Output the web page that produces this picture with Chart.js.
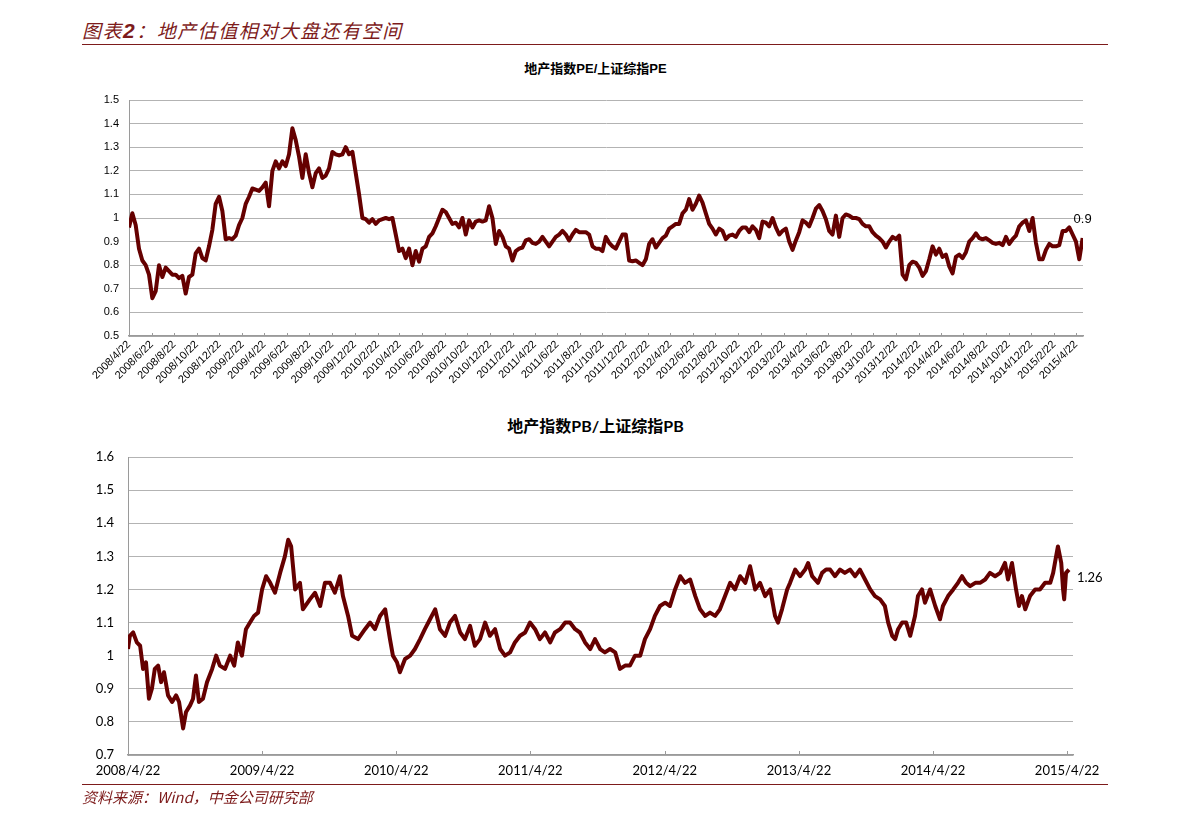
<!DOCTYPE html>
<html><head><meta charset="utf-8">
<script src="https://cdn.jsdelivr.net/npm/chart.js@4/dist/chart.umd.min.js"></script>
<style>
html,body{margin:0;padding:0;background:#fff}
body{width:1191px;height:824px;position:relative;overflow:hidden;font-family:"Noto Sans CJK SC",sans-serif}
.abs{position:absolute}
#hdr{left:82px;top:16px;font-size:19px;font-style:italic;color:#7d1b1b;letter-spacing:1.5px;white-space:nowrap}
#hdr b{font-family:"Liberation Sans",sans-serif;font-size:21px}
#rule1{left:82px;top:44px;width:1026px;height:0;border-top:1px solid #7d1b1b}
#rule2{left:82px;top:784px;width:1026px;height:0;border-top:1px solid #7d1b1b}
#src{left:82px;top:786px;font-size:15px;font-style:italic;color:#7d1b1b;white-space:nowrap}
#t1{left:0;width:1191px;top:58px;text-align:center;font-family:"Liberation Sans","Noto Sans CJK SC",sans-serif;font-weight:bold;font-size:13px;color:#000}
#t2{left:0;width:1191px;top:413px;text-align:center;font-family:"Lato","Noto Sans CJK SC",sans-serif;font-weight:bold;font-size:16px;color:#000}
canvas{position:absolute;left:0}
#c1{top:0}
#c2{top:405px}
</style>
</head><body>
<div id="hdr" class="abs">图表<b>2</b>：地产估值相对大盘还有空间</div>
<div id="rule1" class="abs"></div>
<div id="t1" class="abs">地产指数PE/上证综指PE</div>
<div id="t2" class="abs">地产指数PB/上证综指PB</div>
<canvas id="c1" width="1191" height="405"></canvas>
<canvas id="c2" width="1191" height="419"></canvas>
<div id="rule2" class="abs"></div>
<div id="src" class="abs">资料来源：Wind，中金公司研究部</div>
<script>
// ---------- DATA ----------
const START_DATE = "2008/4/22";
// PE ratio (real-estate index PE / Shanghai composite PE), one reading every 9 days from START_DATE
const PE_STEP_DAYS = 9;
const peValues = [
0.96,1.02,0.97,0.87,0.82,0.80,0.76,0.66,0.69,0.80,
0.75,0.79,0.775,0.76,0.76,0.745,0.755,0.68,0.75,0.76,
0.85,0.87,0.83,0.82,0.88,0.95,1.06,1.09,1.03,0.91,
0.915,0.91,0.925,0.97,1.0,1.06,1.09,1.125,1.12,1.115,
1.13,1.15,1.05,1.2,1.24,1.21,1.24,1.22,1.27,1.38,
1.33,1.26,1.17,1.27,1.19,1.13,1.19,1.21,1.17,1.18,
1.21,1.28,1.27,1.265,1.27,1.30,1.27,1.28,1.19,1.10,
1.0,0.995,0.98,0.995,0.975,0.99,0.995,1.0,0.995,1.0,
0.93,0.86,0.87,0.83,0.87,0.80,0.86,0.815,0.87,0.88,
0.92,0.935,0.965,1.0,1.035,1.025,1.0,0.975,0.98,0.96,
1.0,0.93,0.99,0.96,0.985,0.99,0.985,0.99,1.05,1.0,
0.89,0.945,0.92,0.88,0.87,0.82,0.86,0.87,0.875,0.905,
0.91,0.895,0.89,0.9,0.92,0.90,0.88,0.90,0.92,0.93,
0.945,0.93,0.905,0.93,0.95,0.94,0.94,0.94,0.93,0.88,
0.87,0.87,0.86,0.92,0.895,0.88,0.87,0.90,0.93,0.93,
0.82,0.817,0.82,0.81,0.80,0.825,0.89,0.91,0.875,0.895,
0.915,0.925,0.955,0.965,0.975,0.975,1.02,1.035,1.08,1.035,
1.06,1.095,1.065,1.02,0.975,0.955,0.93,0.955,0.945,0.91,
0.925,0.93,0.92,0.945,0.96,0.96,0.94,0.965,0.95,0.915,
0.985,0.98,0.965,1.0,0.96,0.93,0.945,0.955,0.90,0.865,
0.905,0.94,0.99,0.98,0.965,1.0,1.04,1.055,1.03,0.995,
0.945,0.93,1.01,0.92,1.0,1.015,1.01,1.0,1.0,0.995,
0.975,0.965,0.965,0.94,0.925,0.915,0.90,0.875,0.90,0.92,
0.91,0.925,0.76,0.74,0.80,0.815,0.81,0.79,0.755,0.775,
0.825,0.88,0.845,0.87,0.835,0.845,0.795,0.765,0.835,0.845,
0.83,0.855,0.90,0.915,0.935,0.915,0.91,0.915,0.905,0.895,
0.89,0.895,0.885,0.92,0.89,0.91,0.925,0.965,0.98,0.99,
0.945,1.0,0.895,0.825,0.825,0.865,0.89,0.88,0.88,0.885,
0.945,0.945,0.96,0.93,0.90,0.825,0.915
];
const peEndLabel = "0.9";
const peTickLabels = [
"2008/4/22","2008/6/22","2008/8/22","2008/10/22","2008/12/22",
"2009/2/22","2009/4/22","2009/6/22","2009/8/22","2009/10/22","2009/12/22",
"2010/2/22","2010/4/22","2010/6/22","2010/8/22","2010/10/22","2010/12/22",
"2011/2/22","2011/4/22","2011/6/22","2011/8/22","2011/10/22","2011/12/22",
"2012/2/22","2012/4/22","2012/6/22","2012/8/22","2012/10/22","2012/12/22",
"2013/2/22","2013/4/22","2013/6/22","2013/8/22","2013/10/22","2013/12/22",
"2014/2/22","2014/4/22","2014/6/22","2014/8/22","2014/10/22","2014/12/22",
"2015/2/22","2015/4/22"];
const peYTicks = [0.5,0.6,0.7,0.8,0.9,1.0,1.1,1.2,1.3,1.4,1.5];

// PB ratio (real-estate index PB / Shanghai composite PB): readings at day offsets from START_DATE
const pbDays = [
0,5,14,24,33,41,49,57,65,73,82,90,98,109,120,131,139,150,158,169,
177,185,193,204,215,229,240,250,264,278,289,299,310,321,332,343,354,365,376,387,
400,414,427,436,444,455,468,476,495,509,523,536,550,563,577,585,599,610,626,645,
659,672,686,700,713,721,732,740,754,768,781,795,808,822,836,849,863,876,890,904,
917,931,944,958,972,985,999,1013,1026,1040,1053,1067,1081,1094,1108,1121,1135,1149,1162,1176,
1190,1203,1217,1230,1244,1258,1271,1285,1298,1312,1326,1339,1353,1366,1380,1394,1407,1421,1434,1448,
1462,1475,1489,1503,1516,1530,1544,1557,1571,1584,1598,1611,1625,1639,1652,1666,1680,1693,1707,1720,
1734,1748,1761,1769,1780,1794,1802,1816,1829,1843,1851,1862,1878,1889,1900,1911,1924,1938,1951,1965,
1979,1992,2006,2020,2033,2047,2060,2069,2080,2088,2096,2107,2118,2129,2142,2150,2161,2169,2183,2197,
2210,2218,2232,2246,2259,2270,2281,2292,2306,2319,2333,2346,2360,2374,2387,2395,2406,2417,2425,2433,
2442,2455,2469,2482,2496,2510,2518,2526,2531,2540,2545,2548,2553,2561];
const pbValues = [
1.02,1.06,1.07,1.04,1.03,0.96,0.98,0.87,0.90,0.96,0.97,0.92,0.95,0.88,0.86,0.88,0.86,0.78,0.83,0.85,
0.87,0.94,0.86,0.87,0.92,0.96,1.0,0.97,0.96,1.0,0.97,1.04,1.0,1.08,1.10,1.12,1.13,1.2,1.24,1.22,
1.19,1.25,1.3,1.35,1.33,1.2,1.22,1.14,1.17,1.19,1.15,1.22,1.22,1.19,1.24,1.18,1.12,1.06,1.05,1.08,
1.1,1.08,1.12,1.14,1.05,1.0,0.98,0.95,0.99,1.0,1.02,1.05,1.08,1.11,1.14,1.08,1.06,1.1,1.12,1.07,
1.05,1.09,1.03,1.05,1.1,1.06,1.08,1.02,1.0,1.01,1.04,1.06,1.07,1.1,1.08,1.05,1.07,1.04,1.07,1.08,
1.1,1.1,1.08,1.07,1.04,1.02,1.05,1.02,1.01,1.02,1.01,0.96,0.97,0.97,1.0,1.0,1.05,1.08,1.12,1.15,
1.16,1.15,1.2,1.24,1.22,1.23,1.18,1.14,1.12,1.13,1.12,1.14,1.18,1.22,1.2,1.24,1.22,1.27,1.2,1.22,
1.18,1.2,1.12,1.1,1.14,1.2,1.22,1.26,1.24,1.26,1.28,1.24,1.22,1.25,1.26,1.26,1.24,1.26,1.25,1.26,
1.24,1.26,1.23,1.2,1.18,1.17,1.15,1.1,1.06,1.05,1.08,1.1,1.1,1.06,1.12,1.18,1.2,1.16,1.2,1.15,
1.11,1.15,1.18,1.2,1.22,1.24,1.22,1.21,1.22,1.22,1.23,1.25,1.24,1.25,1.28,1.23,1.28,1.2,1.15,1.18,
1.14,1.18,1.2,1.2,1.22,1.22,1.25,1.3,1.33,1.28,1.2,1.17,1.25,1.26];
const pbEndLabel = "1.26";
const pbTickLabels = ["2008/4/22","2009/4/22","2010/4/22","2011/4/22","2012/4/22","2013/4/22","2014/4/22","2015/4/22"];
const pbYTicks = [0.7,0.8,0.9,1.0,1.1,1.2,1.3,1.4,1.5,1.6];

// ---------- helpers ----------
function dayOf(s){const [y,m,d]=s.split('/').map(Number);const [y0,m0,d0]=START_DATE.split('/').map(Number);return Math.round((Date.UTC(y,m-1,d)-Date.UTC(y0,m0-1,d0))/86400000);}
const peTickDays = peTickLabels.map(dayOf);
const pbTickDays = pbTickLabels.map(dayOf);
const fmt = v => String(Number(v.toFixed(2)));

const LINE = '#650000';
const GRID = '#b3b3b3';

const endLabel = {
  id:'endLabel',
  afterDatasetsDraw(chart, args, o){
    const meta = chart.getDatasetMeta(0);
    const p = meta.data[meta.data.length-1];
    const ctx = chart.ctx;
    ctx.save(); ctx.font = o.font; ctx.fillStyle = '#000'; ctx.textAlign = o.align; ctx.textBaseline = 'middle';
    ctx.fillText(o.text, p.x + o.dx, p.y + o.dy);
    ctx.restore();
  }
};
const innerTicks = {
  id:'innerTicks',
  afterDraw(chart, args, o){
    const xs = chart.scales.x, ctx = chart.ctx, yb = chart.chartArea.bottom;
    ctx.save(); ctx.strokeStyle = o.color; ctx.lineWidth = 1;
    xs.ticks.forEach(t => {
      const x = Math.round(xs.getPixelForValue(t.value)) + 0.5;
      ctx.beginPath(); ctx.moveTo(x, yb); ctx.lineTo(x, yb - o.len); ctx.stroke();
    });
    ctx.restore();
  }
};

function makeChart(id, cfg){
  return new Chart(document.getElementById(id), {
    type:'line',
    data:{datasets:[{data:cfg.points, borderColor:LINE, borderWidth:cfg.lw, pointRadius:0, tension:0, fill:false, borderJoinStyle:'round'}]},
    options:{
      responsive:false, animation:false, devicePixelRatio:1,
      layout:{padding:cfg.pad},
      plugins:{legend:{display:false}, title:{display:false}, tooltip:{enabled:false},
        endLabel:cfg.end, innerTicks:{color:'#9a9a9a', len:cfg.tickLen}},
      scales:{
        x:{type:'linear', min:0, max:cfg.xmax,
          afterBuildTicks:s=>{s.ticks = cfg.xTickDays.map(v=>({value:v}));},
          afterFit:s=>{s.height = cfg.xh;},
          grid:{display:false, drawTicks:false},
          border:{display:true, color:'#9a9a9a', width:1.5},
          ticks:{autoSkip:false, maxRotation:cfg.rot, minRotation:cfg.rot, padding:cfg.xpad, color:'#000',
            font:cfg.xfont, callback:(v,i)=>cfg.xLabels[i]}},
        y:{type:'linear', min:cfg.ymin, max:cfg.ymax,
          afterBuildTicks:s=>{s.ticks = cfg.yTicks.map(v=>({value:v}));},
          afterFit:s=>{s.width = cfg.yw;},
          grid:{color:GRID, lineWidth:1, drawTicks:false},
          border:{display:true, color:'#9a9a9a', width:1},
          ticks:{padding:cfg.ypad, color:'#000', font:cfg.yfont, callback:v=>fmt(v)}}
      }
    },
    plugins:[endLabel, innerTicks]
  });
}

makeChart('c1', {
  points: peValues.map((v,i)=>({x:i*PE_STEP_DAYS, y:v})),
  lw:4, pad:{left:0, top:100, right:108, bottom:0},
  xmax:2575, xTickDays:peTickDays, xLabels:peTickLabels, xh:69, rot:45, xpad:2,
  xfont:{family:'"Liberation Sans", Arial, sans-serif', size:11},
  ymin:0.5, ymax:1.5, yTicks:peYTicks, yw:129, ypad:10,
  yfont:{family:'"Liberation Sans", Arial, sans-serif', size:11},
  tickLen:3,
  end:{text:peEndLabel, font:'13px "Liberation Sans", Arial, sans-serif', align:'center', dx:0, dy:-19}
});

makeChart('c2', {
  points: pbValues.map((v,i)=>({x:pbDays[i], y:v})),
  lw:4, pad:{left:0, top:52, right:118, bottom:0},
  xmax:2572, xTickDays:pbTickDays, xLabels:pbTickLabels, xh:69, rot:0, xpad:8,
  xfont:{family:'Lato, "Open Sans", sans-serif', size:13},
  ymin:0.7, ymax:1.6, yTicks:pbYTicks, yw:128, ypad:14,
  yfont:{family:'Lato, "Open Sans", sans-serif', size:13},
  tickLen:4,
  end:{text:pbEndLabel, font:'13px Lato, "Open Sans", sans-serif', align:'left', dx:8, dy:8}
});
</script>
</body></html>
